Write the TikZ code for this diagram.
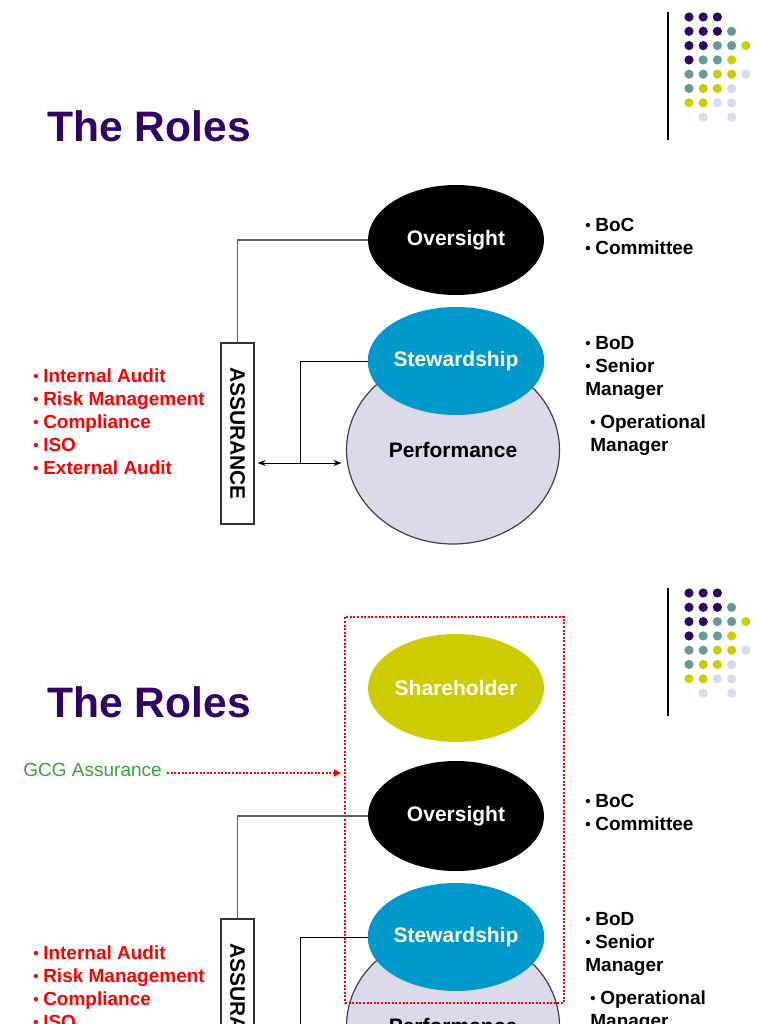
\documentclass[tikz,border=0pt]{standalone}
\usepackage{fontspec}
\setsansfont{Liberation Sans}
\usetikzlibrary{positioning,shapes.geometric,arrows.meta}
\newcommand{\rbul}{\makebox[0.52em][l]{\raisebox{0.12ex}{\fontsize{7.5}{8}\selectfont•}}}
\definecolor{titlepurple}{RGB}{51,0,102}
\definecolor{dotP}{RGB}{51,0,102}
\definecolor{dotT}{RGB}{102,153,153}
\definecolor{dotY}{RGB}{204,204,0}
\definecolor{dotL}{RGB}{218,218,236}
\definecolor{stewfill}{RGB}{0,153,204}
\definecolor{perffill}{RGB}{218,218,236}
\definecolor{sharefill}{RGB}{204,204,0}
\definecolor{auditred}{RGB}{255,0,0}
\definecolor{gcggreen}{RGB}{51,166,51}
\definecolor{linkgrey}{RGB}{95,95,95}

\begin{document}
\begin{tikzpicture}[x=0.5pt, y=-0.5pt,
  font=\sffamily\bfseries,
  title/.style={anchor=base west, inner sep=0pt, text=titlepurple, font=\sffamily\bfseries\fontsize{21.3}{26}\selectfont},
  role/.style={ellipse, inner sep=0pt, outer sep=0pt, minimum width=88pt, minimum height=54pt, text=white, font=\sffamily\bfseries\fontsize{10.5}{12}\selectfont},
  perf/.style={role, minimum width=106.5pt, minimum height=94pt, fill=perffill, draw=black!75, line width=0.6pt, text=black},
  asrbox/.style={draw=black!80, line width=0.6pt, fill=white, rotate=-90, minimum width=90.5pt, minimum height=16.5pt, inner sep=0pt, font=\sffamily\bfseries\fontsize{10.5}{12}\selectfont},
  lbl/.style={anchor=west, align=left, inner sep=0pt, font=\sffamily\bfseries\fontsize{9.5}{11.5}\selectfont},
  aud/.style={lbl, text=auditred},
  link/.style={draw=linkgrey, line width=0.85pt},
  link2/.style={draw=black, line width=0.45pt},
  dbl/.style={{Stealth[length=4pt,width=3pt]}-{Stealth[length=4pt,width=3pt]}, line width=0.5pt, shorten <=1.5pt, shorten >=2.5pt},
  reddot/.style={draw=auditred, line width=1pt, dash pattern=on 1pt off 0.8pt},
  gcgarr/.style={reddot, -{Triangle[length=3.5pt,width=3.5pt]}, shorten <=2.5pt, shorten >=1.5pt}]

\useasboundingbox (0,0) rectangle (768,1024);
\clip (0,0) rectangle (768,1024);

% dot pattern and rule, top right of both slides
\foreach \dy in {0,576} {
  \draw[black, line width=0.7pt] (668,12+\dy) -- (668,140+\dy);
  \foreach \c/\r/\col in {0/0/dotP,1/0/dotP,2/0/dotP,
      0/1/dotP,1/1/dotP,2/1/dotP,3/1/dotT,
      0/2/dotP,1/2/dotP,2/2/dotT,3/2/dotT,4/2/dotY,
      0/3/dotP,1/3/dotT,2/3/dotT,3/3/dotY,
      0/4/dotT,1/4/dotT,2/4/dotY,3/4/dotY,4/4/dotL,
      0/5/dotT,1/5/dotY,2/5/dotY,3/5/dotL,
      0/6/dotY,1/6/dotY,2/6/dotL,3/6/dotL,
      1/7/dotL,3/7/dotL}
    \fill[\col] (689+14.2*\c,17+14.3*\r+\dy) circle[radius=4.6];
}

% slide 1
\node[title] (ttl1) at (47,141) {The Roles};
\node[perf] (perf1) at (453,450) {Performance};
\node[role, fill=black, minimum height=55pt] (ov1) at (456,240) {Oversight};
\node[role, fill=stewfill] (stw1) at (456,361) {Stewardship};
\node[asrbox] (asr1) at (237.5,433.5) {ASSURANCE};
\node[aud] (aud1) at (33,422) {\rbul Internal Audit\\\rbul Risk Management\\\rbul Compliance\\\rbul ISO\\\rbul External Audit};
\node[lbl] (boc1) at (585,236.5) {\rbul BoC\\\rbul Committee};
\node[lbl] (bod1) at (585,368) {\rbul BoD\\\rbul Senior\\Manager};
\node[lbl] (opm1) at (590,435.5) {\rbul Operational\\Manager};

\coordinate (jn1) at (300,463);
\draw[link] (ov1.west) -| (asr1.west);
\draw[link2] (stw1.west) -| (jn1);
\draw[dbl] (asr1.north |- jn1) -- (perf1.west |- jn1);

% slide 2
\node[title] (ttl2) at (47,717) {The Roles};
\node[role, fill=sharefill] (shr2) at (456,688) {Shareholder};
\node[perf] (perf2) at (453,1026) {Performance};
\node[role, fill=black, minimum height=55pt] (ov2) at (456,816) {Oversight};
\node[role, fill=stewfill] (stw2) at (456,937) {Stewardship};
\node[asrbox] (asr2) at (237.5,1009.5) {ASSURANCE};
\node[aud] (aud2) at (33,987) {\rbul Internal Audit\\\rbul Risk Management\\\rbul Compliance\\\rbul ISO};
\node[lbl] (boc2) at (585,812.5) {\rbul BoC\\\rbul Committee};
\node[lbl] (bod2) at (585,944) {\rbul BoD\\\rbul Senior\\Manager};
\node[lbl] (opm2) at (590,1011.5) {\rbul Operational\\Manager};
\node[lbl, text=gcggreen, font=\sffamily\fontsize{9.5}{11.5}\selectfont] (gcg) at (23,770) {GCG Assurance};
\node[reddot, minimum width=109.5pt, minimum height=193pt, inner sep=0pt] (gcgbox) at (454.5,810) {};

\coordinate (jn2) at (300,1039);
\draw[link] (ov2.west) -| (asr2.west);
\draw[link2] (stw2.west) -| (jn2);
\draw[gcgarr] ([yshift=-1.5pt]gcg.east) -- ([yshift=-1.5pt]gcg.east -| gcgbox.west);
\end{tikzpicture}
\end{document}
